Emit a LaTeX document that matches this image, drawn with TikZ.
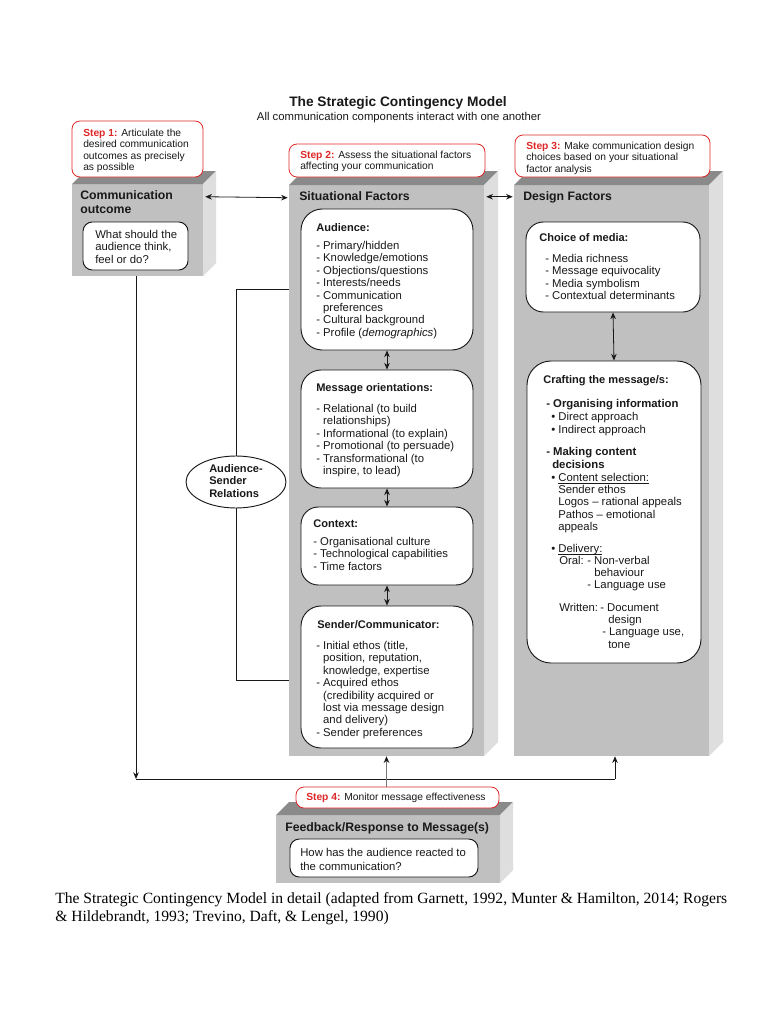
\documentclass[tikz,border=0pt]{standalone}
\usepackage{fontspec}
\setmainfont{Liberation Sans}
\newfontfamily\capfont{Liberation Serif}
\usetikzlibrary{arrows.meta,calc,fit,shapes.geometric}
\definecolor{gfront}{RGB}{192,192,192}
\definecolor{gtop}{RGB}{138,138,138}
\definecolor{gside}{RGB}{222,222,222}
\definecolor{stepred}{RGB}{222,40,40}
\definecolor{ink}{RGB}{25,25,25}
\definecolor{fbline}{RGB}{120,120,120}
\newcommand\fbody{\fontsize{8.5}{9.3}\selectfont}
\newcommand\fhead{\fontsize{8.3}{9.3}\selectfont\bfseries}
\newcommand\fpanel{\fontsize{9.2}{10.5}\selectfont\bfseries}
\newcommand\fstep{\fontsize{7.7}{8.4}\selectfont}
\newcommand\stepl[1]{\textcolor{stepred}{\textbf{#1}}}
\newcommand\ulin[1]{\underline{\smash{#1}}}
\newcounter{wl}
\newcommand\wline[3]{\stepcounter{wl}\node[anchor=base west, inner sep=0pt, font=\fbody, text=ink] (wl\arabic{wl}) at (#1,#2) {#3};}
\newcommand\panelbox[6]{%
  \node[front, fit={(#2,#3)(#4,#5)}] (#1) {};
  \fill[gtop] (#2,#3) -- (#2+#6,#3-#6) -- (#4+#6,#3-#6) -- (#4,#3) -- cycle;
  \fill[gside] (#4,#3) -- (#4+#6,#3-#6) -- (#4+#6,#5-#6) -- (#4,#5) -- cycle;
}
\begin{document}
\begin{tikzpicture}[x=0.75pt,y=-0.75pt,
  txt/.style={anchor=north west, inner sep=0pt, align=left, font=\fbody, text=ink},
  hd/.style={anchor=north west, inner sep=0pt, align=left, font=\fhead, text=ink},
  ptitle/.style={anchor=north west, inner sep=0pt, align=left, font=\fpanel, text=ink},
  steptxt/.style={anchor=north west, inner sep=0pt, align=left, font=\fstep, text=ink},
  front/.style={fill=gfront, draw=none, inner sep=0pt},
  wbox/.style={draw=ink, line width=0.7pt, fill=white, inner sep=0pt},
  stepbox/.style={draw=stepred, line width=0.6pt, fill=white, rounded corners=6pt, inner sep=0pt},
  arr/.style={-{Stealth[length=5pt,width=4.2pt]}, line width=0.6pt, draw=ink},
  dbl/.style={{Stealth[length=5pt,width=4.2pt]}-{Stealth[length=5pt,width=4.2pt]}, line width=0.6pt, draw=ink},
  conn/.style={line width=0.6pt, draw=ink},
]
\path[use as bounding box, fill=white] (0,0) rectangle (768,1024);

% title
\node[anchor=base, inner sep=0pt, font=\fontsize{10.3}{12}\selectfont\bfseries, text=ink] (title) at (398,106) {The Strategic Contingency Model};
\node[anchor=base, inner sep=0pt, font=\fbody, text=ink] (subtitle) at (399,120) {All communication components interact with one another};

% panels
\panelbox{co}{72}{184}{203}{276}{13}
\panelbox{sit}{289}{185}{484}{756}{14}
\panelbox{dsg}{514}{185}{709}{756}{14}
\panelbox{fb}{276}{815}{500}{883}{13}

% step boxes
\node[stepbox, fit={(72,121)(203,177)}] (s1) {};
\node[stepbox, fit={(289,144)(485,177)}] (s2) {};
\node[stepbox, fit={(515,135)(710,177)}] (s3) {};
\node[stepbox, fit={(296,787)(499,808)}] (s4) {};
\node[steptxt] (s1t) at (83,129) {\stepl{Step 1:} Articulate the\\desired communication\\outcomes as precisely\\as possible};
\node[steptxt] (s2t) at (300,151) {\stepl{Step 2:} Assess the situational factors\\affecting your communication};
\node[steptxt] (s3t) at (526,142) {\stepl{Step 3:} Make communication design\\choices based on your situational\\factor analysis};
\node[steptxt] (s4t) at (306,793) {\stepl{Step 4:} Monitor message effectiveness};

% panel titles
\node[ptitle] (cot) at (80,190) {Communication\\outcome};
\node[ptitle] (sitt) at (299,191) {Situational Factors};
\node[ptitle] (dsgt) at (523,191) {Design Factors};
\node[ptitle] (fbt) at (285,822) {Feedback/Response to Message(s)};

% white inner boxes
\node[wbox, rounded corners=7pt, fit={(83,222)(188,270)}] (coq) {};
\node[wbox, rounded corners=16pt, fit={(301,209)(473,350)}] (aud) {};
\node[wbox, rounded corners=15pt, fit={(301,370)(473,488)}] (msg) {};
\node[wbox, rounded corners=13pt, fit={(301,507)(473,585)}] (ctx) {};
\node[wbox, rounded corners=15pt, fit={(301,606)(473,748)}] (snd) {};
\node[wbox, rounded corners=13pt, fit={(526,222)(700,312)}] (cho) {};
\node[wbox, rounded corners=18pt, fit={(527,361)(701,663)}] (crf) {};
\node[wbox, rounded corners=7pt, fit={(290,839)(478,877)}] (fbq) {};

% texts in boxes
\node[txt] (coqt) at (95,230) {What should the\\audience think,\\feel or do?};
\node[hd] (audh) at (316,223) {Audience:};
\node[txt] (audt) at (316,241) {- Primary/hidden\\- Knowledge/emotions\\- Objections/questions\\- Interests/needs\\- Communication\\\hphantom{- }preferences\\- Cultural background\\- Profile (\textit{demographics})};
\node[hd] (msgh) at (316,383) {Message orientations:};
\node[txt] (msgt) at (316,404) {- Relational (to build\\\hphantom{- }relationships)\\- Informational (to explain)\\- Promotional (to persuade)\\- Transformational (to\\\hphantom{- }inspire, to lead)};
\node[hd] (ctxh) at (313,519) {Context:};
\node[txt] (ctxt) at (313,537) {- Organisational culture\\- Technological capabilities\\- Time factors};
\node[hd] (sndh) at (317,620) {Sender/Communicator:};
\node[txt] (sndt) at (316,641) {- Initial ethos (title,\\\hphantom{- }position, reputation,\\\hphantom{- }knowledge, expertise\\- Acquired ethos\\\hphantom{- }(credibility acquired or\\\hphantom{- }lost via message design\\\hphantom{- }and delivery)\\- Sender preferences};
\node[hd] (choh) at (539,233) {Choice of media:};
\node[txt] (chot) at (545,254) {- Media richness\\- Message equivocality\\- Media symbolism\\- Contextual determinants};
\node[hd] (crfh) at (543,375) {Crafting the message/s:};
\wline{546}{407}{\bfseries - Organising information}
\wline{551}{420}{\textbullet\ Direct approach}
\wline{551}{433}{\textbullet\ Indirect approach}
\wline{546}{455}{\bfseries - Making content}
\wline{552}{468}{\bfseries decisions}
\wline{551}{481}{\textbullet\ \ulin{Content selection:}}
\wline{558}{493}{Sender ethos}
\wline{558}{505}{Logos – rational appeals}
\wline{558}{518}{Pathos – emotional}
\wline{558}{530}{appeals}
\wline{551}{552}{\textbullet\ \ulin{Delivery:}}
\wline{559}{564}{Oral:}
\wline{587}{564}{- Non-verbal}
\wline{594}{576}{behaviour}
\wline{587}{588}{- Language use}
\wline{559}{611}{Written:}
\wline{600}{611}{- Document}
\wline{608}{623}{design}
\wline{602}{635}{- Language use,}
\wline{608}{648}{tone}
\node[txt, font=\fbody\linespread{1.1}\selectfont] (fbqt) at (300,848) {How has the audience reacted to\\the communication?};

% ellipse
\node[ellipse, draw=ink, line width=0.7pt, fill=white, minimum width=75pt, minimum height=39pt, inner sep=0pt] (ell) at (236,482) {};
\node[hd, anchor=center] (ellt) at (236,481) {Audience-\\Sender\\Relations};

% connectors
\draw[dbl] ($(co.north east)+(2,13)$) -- ($(sit.north west)+(-1,13)$);
\draw[dbl] ($(sit.north east)+(2,12)$) -- ($(dsg.north west)+(-1,12)$);
\draw[dbl] (aud.south) -- (msg.north);
\draw[dbl] (msg.south) -- (ctx.north);
\draw[dbl] (ctx.south) -- (snd.north);
\draw[dbl] (cho.south) -- (crf.north);

\coordinate (bt) at (236,289);
\coordinate (bb) at (236,680);
\draw[conn] (sit.west |- bt) -- (bt) -- (ell.north);
\draw[conn] (ell.south) -- (bb) -- (sit.west |- bb);

\coordinate (hl) at (136,779);
\coordinate (hr) at (615,779);
\draw[arr] (co.south -| hl) -- (hl);
\draw[conn] (hl) -- (hr);
\draw[arr] (hr) -- (hr |- dsg.south);
\draw[-{Stealth[length=5pt,width=4.2pt,color=ink]}, line width=0.8pt, draw=fbline] (s4.north -| sit.south) -- (sit.south);

% caption
\node[anchor=base west, inner sep=0pt, font=\capfont\fontsize{11.7}{13.5}\selectfont, text=black] (cap1) at (55,903) {The Strategic Contingency Model in detail (adapted from Garnett, 1992, Munter \& Hamilton, 2014; Rogers};
\node[anchor=base west, inner sep=0pt, font=\capfont\fontsize{11.7}{13.5}\selectfont, text=black] (cap2) at (55,921) {\& Hildebrandt, 1993; Trevino, Daft, \& Lengel, 1990)};
\end{tikzpicture}
\end{document}
